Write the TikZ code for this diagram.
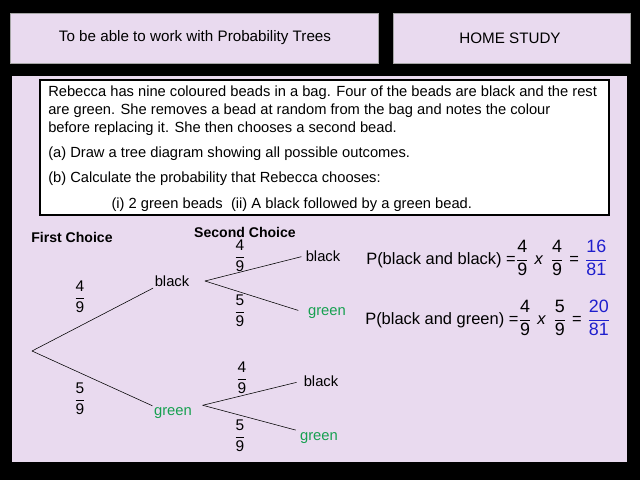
\documentclass[tikz,border=0pt]{standalone}
\usepackage{amsmath}
\usepackage{fontspec}
\setmainfont{Liberation Sans}
\usepackage{xcolor}
\usetikzlibrary{positioning}

\definecolor{lilac}{RGB}{233,218,239}
\definecolor{beadgreen}{RGB}{22,160,80}
\definecolor{ansblue}{RGB}{30,30,205}
\newcommand{\fr}[2]{$\dfrac{\text{#1}}{\text{#2}}$}
\newcommand{\efr}[2]{{\fontsize{12.7}{15}\selectfont\fr{#1}{#2}}}

\begin{document}
\begin{tikzpicture}[
    x=0.025cm, y=-0.025cm,
    panel/.style={draw=gray!70, fill=lilac},
    title/.style={font=\fontsize{10.8}{13}\selectfont},
    body/.style={font=\fontsize{10.45}{12.8}\selectfont},
    lbl/.style={font=\fontsize{10.5}{12}\selectfont, inner sep=1pt},
    glbl/.style={lbl, text=beadgreen},
    head/.style={font=\fontsize{10}{12}\selectfont\bfseries, inner sep=0pt},
    prob/.style={font=\fontsize{11}{13}\selectfont, inner sep=0pt},
    eqn/.style={font=\fontsize{11.7}{15}\selectfont, anchor=west, inner sep=0pt},
    branch/.style={thin},
]
\fill[black] (0,0) rectangle (640,480);
\useasboundingbox (0,0) rectangle (640,480);

% --- Title bars ---
\draw[panel] (10,13) rectangle (378,63);
\draw[panel] (393,13) rectangle (630,63);
\node[title] (aim) at (195,38) {To be able to work with Probability Trees};
\node[title] (home) at (510,38) {HOME STUDY};

% --- Main panel and question ---
\fill[lilac] (12,76) rectangle (627,462);
\draw[fill=white, thick] (40,80) rectangle (609,215);
\node[body, anchor=north west, align=left, inner sep=0pt] (question) at (48,86) {%
Rebecca has nine coloured beads in a bag. Four of the beads are black and the rest\\
are green. She removes a bead at random from the bag and notes the colour\\
before replacing it. She then chooses a second bead.\\[5pt]
(a) Draw a tree diagram showing all possible outcomes.\\[5pt]
(b) Calculate the probability that Rebecca chooses:\\[5pt]
\hspace*{45pt}(i) 2 green beads\hspace{6pt}(ii) A black followed by a green bead.};

% --- Tree ---
\node[head] (first) at (72,237) {First Choice};
\node[head] (second) at (245,232) {Second Choice};

\coordinate (root) at (32,351);
\node[lbl] (b1) at (172,281) {black};
\node[glbl] (g1) at (173,413) {green};
\node[lbl] (bb) at (323,256) {black};
\node[glbl] (bg) at (327,313) {green};
\node[lbl] (gb) at (321,381) {black};
\node[glbl] (gg) at (319,438) {green};

\coordinate[right=10pt of b1.east] (b1fork);
\coordinate[above right=5.5pt and 6.5pt of g1.east] (g1fork);

\draw[branch] (root) -- (b1.south west);
\draw[branch] (root) -- (g1.north west);
\draw[branch, shorten >=2pt] (b1fork) -- (bb.west);
\draw[branch, shorten >=6pt] (b1fork) -- (bg.west);
\draw[branch, shorten >=4pt] (g1fork) -- (gb.west);
\draw[branch, shorten >=2pt] (g1fork) -- (gg.north west);

\node[prob] (p1) at (80,297) {\fr{4}{9}};
\node[prob] (p2) at (80,399) {\fr{5}{9}};
\node[prob] (p3) at (240,256) {\fr{4}{9}};
\node[prob] (p4) at (240,311) {\fr{5}{9}};
\node[prob] (p5) at (242,378) {\fr{4}{9}};
\node[prob] (p6) at (240,436) {\fr{5}{9}};

% --- Answers ---
\node[eqn] (ans1) at (366,258) {P(black and black) =\efr{4}{9}\hspace{4pt}\textit{x}\hspace{5pt}\efr{4}{9}\hspace{4pt}=\hspace{4pt}\textcolor{ansblue}{\efr{16}{81}}};
\node[eqn] (ans2) at (365,318) {P(black and green) =\efr{4}{9}\hspace{4pt}\textit{x}\hspace{5pt}\efr{5}{9}\hspace{4pt}=\hspace{4pt}\textcolor{ansblue}{\efr{20}{81}}};

\end{tikzpicture}
\end{document}
